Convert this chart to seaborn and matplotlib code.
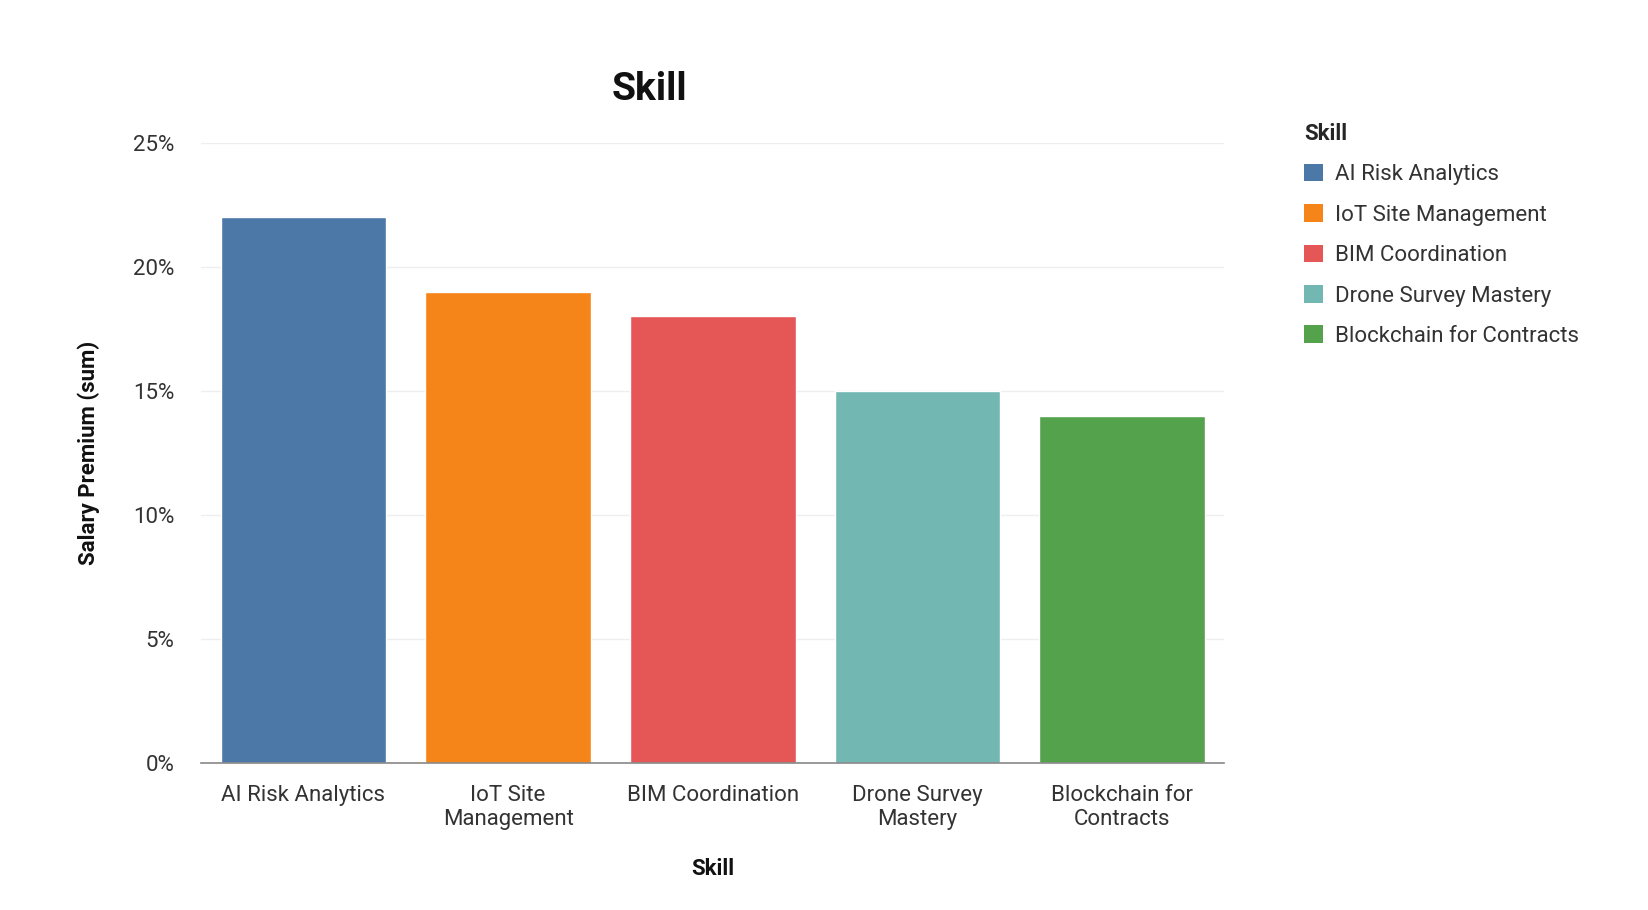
import matplotlib.pyplot as plt
import seaborn as sns
import pandas as pd
from matplotlib.ticker import PercentFormatter
from matplotlib.patches import Patch

skills = ["AI Risk Analytics", "IoT Site Management", "BIM Coordination",
          "Drone Survey Mastery", "Blockchain for Contracts"]
premium = [22, 19, 18, 15, 14]
tick_labels = ["AI Risk Analytics", "IoT Site\nManagement", "BIM Coordination",
               "Drone Survey\nMastery", "Blockchain for\nContracts"]
colors = ["#4c78a8", "#f58518", "#e45756", "#72b7b2", "#54a24b"]

sns.set_theme(style="white")
plt.rcParams["font.family"] = ["Roboto", "DejaVu Sans"]

df = pd.DataFrame({"Skill": skills, "Premium": premium})

fig = plt.figure(figsize=(16.48, 9.10), dpi=100)
ax = fig.add_axes([0.122, 0.162, 0.621, 0.681])

sns.barplot(data=df, x="Skill", y="Premium", hue="Skill", palette=colors,
            width=0.81, legend=False, saturation=1, ax=ax)

ax.set_ylim(0, 25)
ax.set_yticks([0, 5, 10, 15, 20, 25])
ax.yaxis.set_major_formatter(PercentFormatter(decimals=0))
ax.grid(axis="y", color="#eeeeee", linewidth=1)
ax.set_axisbelow(True)
for s in ["top", "right", "left"]:
    ax.spines[s].set_visible(False)
ax.spines["bottom"].set_color("#888888")
ax.spines["bottom"].set_linewidth(1.2)
ax.tick_params(axis="both", length=0, labelsize=16, labelcolor="#333333")
ax.tick_params(axis="y", pad=19)
ax.tick_params(axis="x", pad=16)
ax.set_xticks(range(len(skills)))
ax.set_xticklabels(tick_labels, linespacing=1.2)

ax.set_xlabel("Skill", fontsize=16, fontweight="bold", color="#111111", labelpad=20)
ax.set_ylabel("Salary Premium (sum)", fontsize=16, fontweight="bold", color="#111111", labelpad=24)

fig.text(0.394, 0.902, "Skill", fontsize=28, fontweight="bold", color="#111111",
         ha="center", va="center")

handles = [Patch(facecolor=c, edgecolor="none") for c in colors]
leg = fig.legend(handles, skills, title="Skill", loc="upper left",
                 bbox_to_anchor=(0.779, 0.887), frameon=False, fontsize=16,
                 title_fontproperties={"weight": "bold", "size": 16},
                 handlelength=0.85, handleheight=0.85, handletextpad=0.55,
                 labelspacing=0.85)
leg._legend_box.align = "left"
for t in leg.get_texts():
    t.set_color("#333333")

fig.savefig("out.png", dpi=100)
